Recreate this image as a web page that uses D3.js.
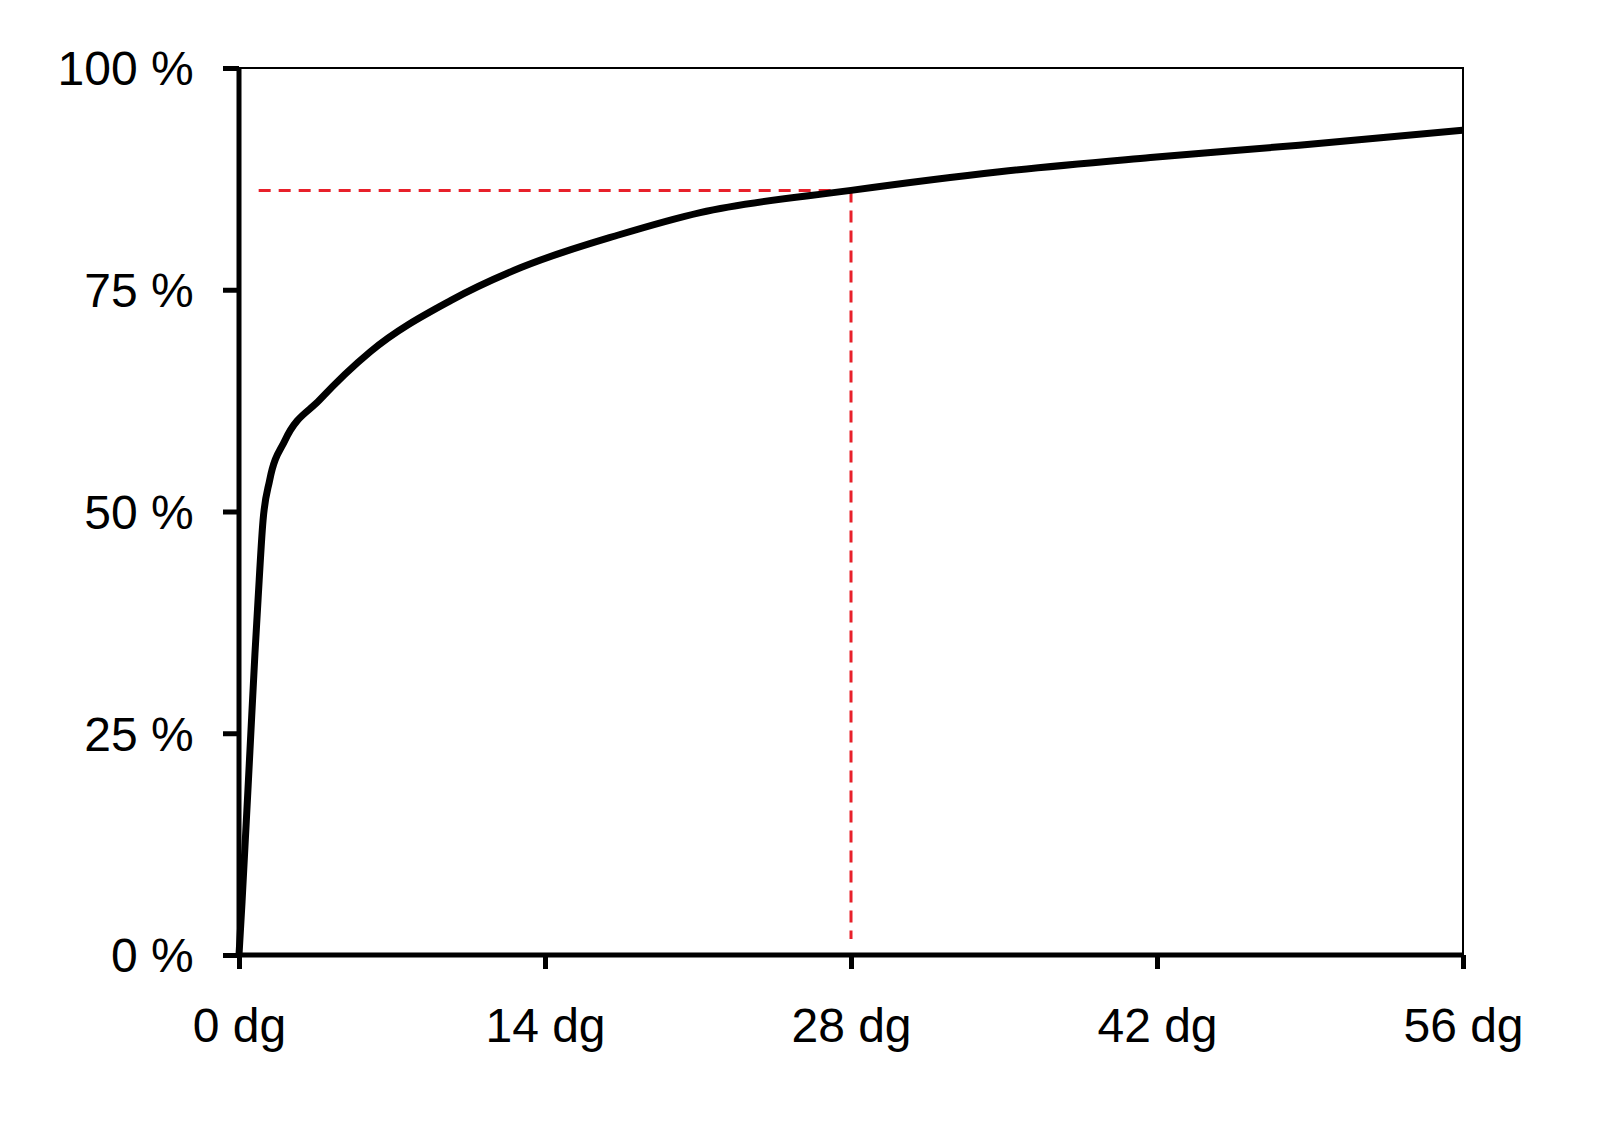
<!DOCTYPE html>
<html><head><meta charset="utf-8">
<script src="https://cdn.jsdelivr.net/npm/d3@7"></script>
<style>body{margin:0;background:#fff}</style>
</head><body>
<svg id="chart" width="1600" height="1130"></svg>
<script>
// Data
var days = [0, 0.14, 0.5, 0.73, 0.87, 1.1, 1.4, 2.1, 3.7, 6, 9.7, 12.9, 17.4, 21.1, 28, 34.8, 41.7, 48.5, 56];
var pct  = [0, 6, 23, 34, 40, 49, 53.5, 58, 62.6, 68, 73.8, 77.5, 81.2, 83.7, 86.2, 88.3, 89.9, 91.3, 93];
var xTicks = [0, 14, 28, 42, 56];
var yTicks = [0, 25, 50, 75, 100];
var markDay = 28, markPct = 86.2;

var svg = d3.select("#chart");
var plotLeft = 239, plotRight = 1463, plotTop = 68, plotBottom = 955;

var x = d3.scaleLinear().domain([0, 56]).range([plotLeft, plotRight]);
var y = d3.scaleLinear().domain([0, 100]).range([plotBottom, plotTop]);

// frame (thin top/right)
svg.append("path")
  .attr("d", "M" + plotLeft + "," + plotTop + "H" + plotRight + "V" + plotBottom)
  .attr("fill", "none").attr("stroke", "#000").attr("stroke-width", 2);

// reference lines
svg.append("line")
  .attr("x1", x(0.9)).attr("x2", x(markDay))
  .attr("y1", y(markPct)).attr("y2", y(markPct))
  .attr("stroke", "#e8202a").attr("stroke-width", 3).attr("stroke-dasharray", "12,8");
svg.append("line")
  .attr("x1", x(markDay)).attr("x2", x(markDay))
  .attr("y1", y(markPct)).attr("y2", y(1.8))
  .attr("stroke", "#e8202a").attr("stroke-width", 3).attr("stroke-dasharray", "12,8");

// axes
var xAxis = svg.append("g").attr("transform", "translate(0," + plotBottom + ")")
  .call(d3.axisBottom(x).tickValues(xTicks).tickSize(14).tickFormat(function(d){ return d + " dg"; }));
var yAxis = svg.append("g").attr("transform", "translate(" + plotLeft + ",0)")
  .call(d3.axisLeft(y).tickValues(yTicks).tickSize(16).tickFormat(function(d){ return d + " %"; }));

[xAxis, yAxis].forEach(function(g) {
  g.select(".domain").attr("stroke-width", 5);
  g.selectAll(".tick line").attr("stroke-width", 5);
  g.selectAll("text").attr("font-family", "Liberation Sans, Arial, sans-serif")
    .attr("font-size", 48).attr("fill", "#000");
});
xAxis.select(".domain").attr("d", "M" + plotLeft + ",0H" + plotRight);
yAxis.select(".domain").attr("d", "M0," + plotBottom + "V" + plotTop);
xAxis.selectAll("text").attr("dy", "1.45em");
yAxis.selectAll("text").attr("dx", "-0.55em").attr("dy", "0.35em");

// curve
var line = d3.line().x(function(d, i){ return x(days[i]); }).y(function(d){ return y(d); })
  .curve(d3.curveMonotoneX);
svg.append("path").datum(pct)
  .attr("d", line).attr("fill", "none").attr("stroke", "#000").attr("stroke-width", 7);
</script>
</body></html>
